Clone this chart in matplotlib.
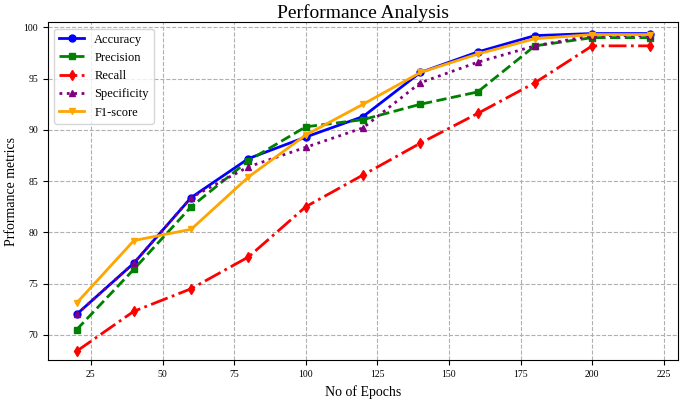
import matplotlib
matplotlib.use("Agg")
import matplotlib.pyplot as plt

plt.rcParams["font.family"] = "Liberation Serif"

epochs = [20, 40, 60, 80, 100, 120, 140, 160, 180, 200, 220]
accuracy = [72.0, 77.0, 83.4, 87.2, 89.3, 91.3, 95.6, 97.6, 99.2, 99.4, 99.4]
precision = [70.5, 76.4, 82.5, 87.0, 90.3, 91.0, 92.5, 93.7, 98.2, 99.0, 99.0]
recall = [68.4, 72.3, 74.5, 77.6, 82.5, 85.6, 88.7, 91.6, 94.6, 98.2, 98.2]
specificity = [72.0, 77.0, 83.4, 86.4, 88.3, 90.2, 94.6, 96.6, 98.2, 99.2, 99.2]
f1 = [73.1, 79.2, 80.3, 85.4, 89.5, 92.5, 95.6, 97.4, 98.9, 99.3, 99.3]

fig, ax = plt.subplots(figsize=(6.85, 4.05), dpi=100)
ax.plot(epochs, accuracy, "o-", color="blue", lw=2, ms=5, label="Accuracy")
ax.plot(epochs, precision, "s--", color="green", lw=2, ms=5, label="Precision")
ax.plot(epochs, recall, "d-.", color="red", lw=2, ms=5, label="Recall")
ax.plot(epochs, specificity, "^:", color="purple", lw=2, ms=5, label="Specificity")
ax.plot(epochs, f1, "v-", color="orange", lw=2, ms=5, label="F1-score")
ax.set_title("Performance Analysis", fontsize=14, pad=3)
ax.set_xlabel("No of Epochs", fontsize=10)
ax.set_ylabel("Prformance metrics", fontsize=10)
ax.set_xlim(10, 230)
ax.set_ylim(67.5, 100.5)
ax.set_xticks([25, 50, 75, 100, 125, 150, 175, 200, 225])
ax.set_yticks([70, 75, 80, 85, 90, 95, 100])
ax.tick_params(labelsize=7)
ax.grid(True, linestyle="--", color="#b0b0b0")
ax.legend(loc="upper left", fontsize=9)
fig.subplots_adjust(left=0.07, right=0.99, top=0.945, bottom=0.11)
fig.savefig("out.png")
